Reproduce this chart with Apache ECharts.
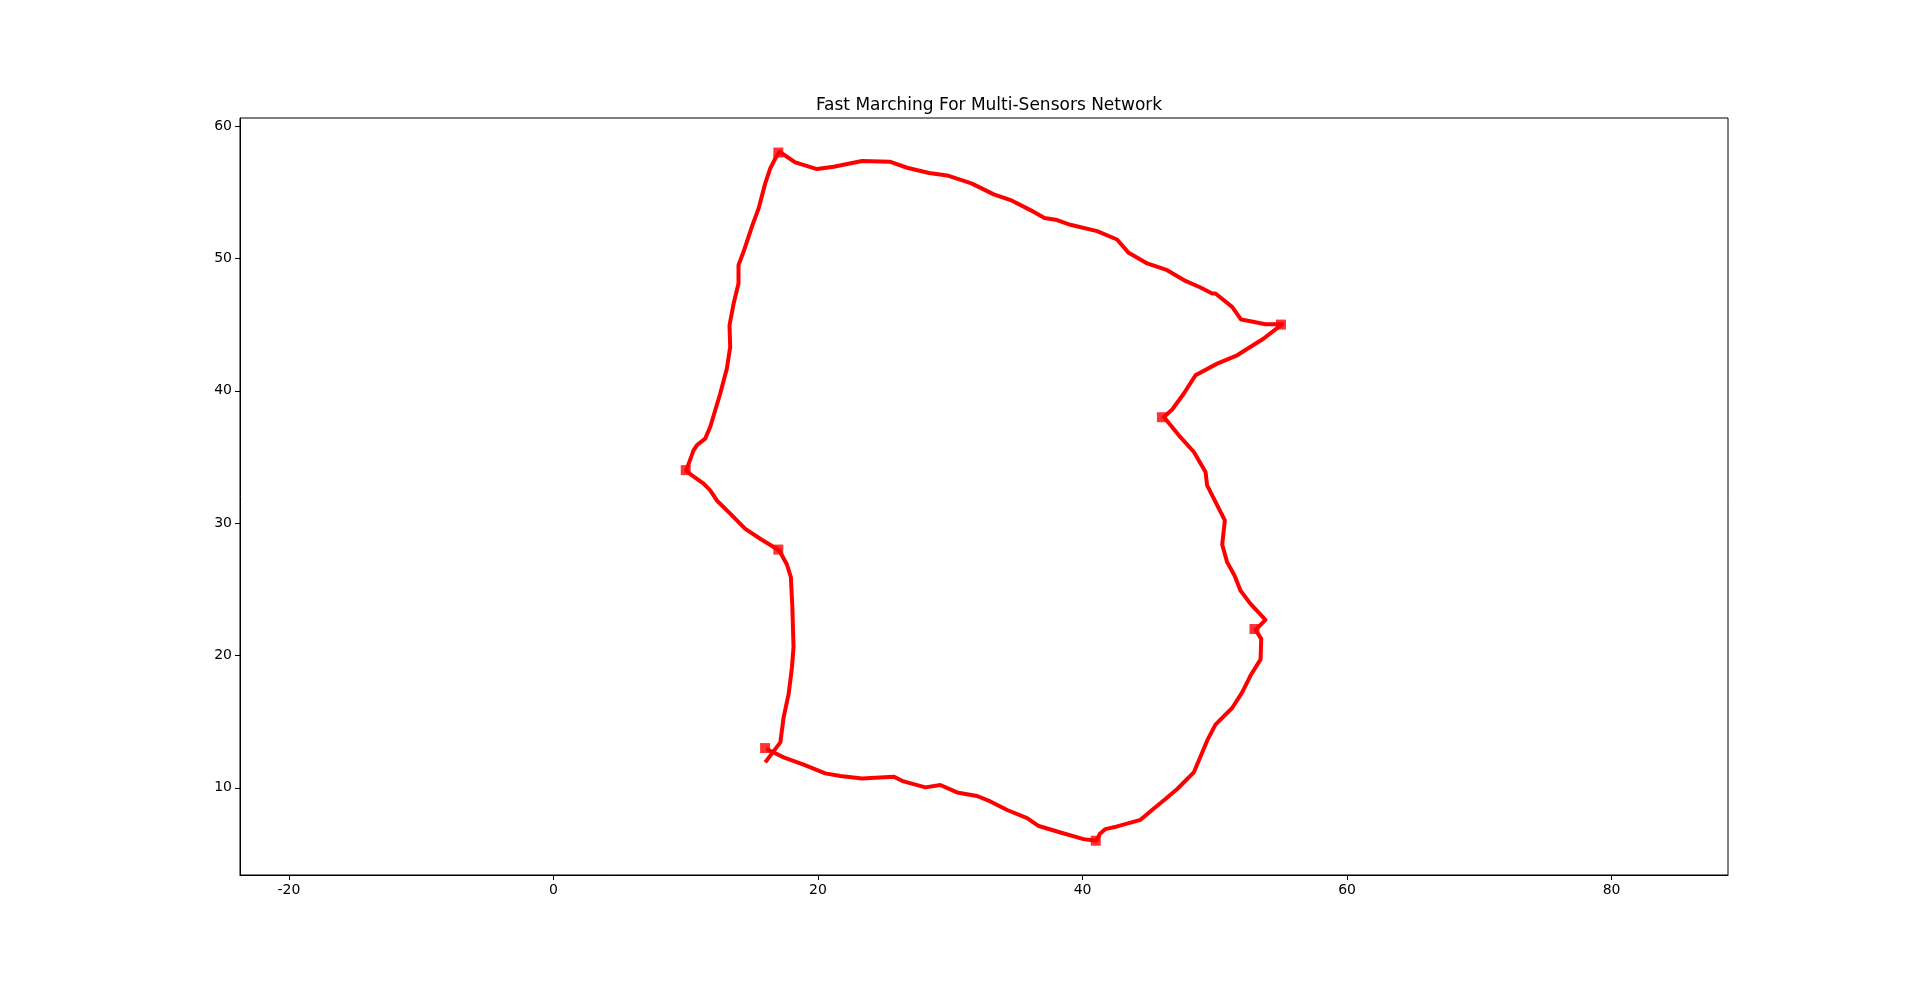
<!DOCTYPE html>
<html>
<head>
<meta charset="utf-8">
<script src="https://cdn.jsdelivr.net/npm/echarts@6/dist/echarts.min.js"></script>
<style>
html,body{margin:0;padding:0;background:#fff;}
#chart{width:1920px;height:983px;}
</style>
</head>
<body>
<div id="chart"></div>
<script>
// Path of the fast-marching loop
const pathX = [16.01,17.15,17.4,17.78,18.03,18.15,18.06,17.95,17.65,17.07,15.63,14.5,13.36,12.35,11.85,11.35,10.47,10.04,10.59,10.84,11.47,11.85,12.61,13.11,13.36,13.31,13.62,13.99,13.99,14.37,15.0,15.51,16.01,16.39,16.84,17.09,
  18.28,19.92,21.18,23.33,25.42,26.73,28.4,29.76,31.6,33.29,34.67,36.06,37.12,38.08,39.08,41.1,42.61,43.49,44.89,46.4,47.78,48.92,49.8,50.05,51.31,51.99,52.7,53.83,55.1,
  53.7,51.69,50.18,48.54,47.66,46.78,46.15,47.28,48.42,49.3,49.42,50.76,50.56,50.93,51.49,51.94,52.7,53.83,53.08,53.51,53.46,52.7,52.07,51.31,50.05,49.42,48.41,47.16,46.27,45.39,44.38,42.61,41.73,41.3,41.05,
  40.08,38.33,36.69,35.81,34.3,33.03,32.03,30.51,29.25,28.12,26.47,25.72,23.33,21.69,20.55,18.91,17.4,16.62,16.09];
const pathY = [11.92,13.43,15.32,17.09,19.11,20.62,23.64,25.91,26.87,27.93,28.82,29.57,30.71,31.71,32.47,32.98,33.6,33.98,35.5,35.88,36.38,37.26,39.79,41.68,43.31,44.95,46.59,48.11,49.49,50.5,52.39,53.78,55.67,56.8,57.68,58.06,
  57.26,56.75,56.93,57.36,57.31,56.85,56.45,56.27,55.67,54.84,54.36,53.65,53.05,52.9,52.54,52.06,51.43,50.42,49.62,49.11,48.3,47.8,47.35,47.35,46.34,45.38,45.25,45.03,45.03,
  43.95,42.68,42.05,41.17,39.79,38.58,38.02,36.63,35.37,33.86,32.85,30.2,28.39,27.05,26.04,24.91,23.9,22.69,21.93,21.25,19.7,18.48,17.21,16.03,14.77,13.56,11.16,9.91,9.15,8.44,7.58,7.08,6.88,6.5,6.0,
  6.12,6.62,7.11,7.71,8.32,8.97,9.38,9.65,10.21,10.03,10.48,10.84,10.71,10.89,11.09,11.75,12.3,12.68,12.93];

// Sensor positions
const sensorX = [17,55,46,53,41,16,17,10];
const sensorY = [58,45,38,22,6,13,28,34];

// Tick labels
const xTicks = [-20,0,20,40,60,80];
const yTicks = [10,20,30,40,50,60];

const titleText = 'Fast Marching For Multi-Sensors Network';

const pathData = pathX.map((x,i)=>[x,pathY[i]]);
const sensorData = sensorX.map((x,i)=>[x,sensorY[i]]);

const font = 'DejaVu Sans';
const chart = echarts.init(document.getElementById('chart'), null, {renderer:'canvas'});
chart.setOption({
  animation:false,
  backgroundColor:'#ffffff',
  title:{
    text:titleText,
    left:984,
    textAlign:'center',
    top:92,
    textStyle:{fontFamily:font,fontSize:17,fontWeight:'normal',color:'#000'}
  },
  grid:{left:240,top:118,width:1488,height:757,show:true,borderColor:'#000',borderWidth:1,backgroundColor:'transparent'},
  xAxis:{
    type:'value',min:-23.7,max:88.8,
    splitLine:{show:false},
    axisLine:{show:true,onZero:false,lineStyle:{color:'#000',width:1}},
    axisTick:{show:true,length:5,lineStyle:{color:'#000'},customValues:xTicks},
    axisLabel:{color:'#000',fontFamily:font,fontSize:14,margin:8,customValues:xTicks}
  },
  yAxis:{
    type:'value',min:3.41,max:60.61,
    splitLine:{show:false},
    axisLine:{show:true,onZero:false,lineStyle:{color:'#000',width:1}},
    axisTick:{show:true,length:5,lineStyle:{color:'#000'},customValues:yTicks},
    axisLabel:{color:'#000',fontFamily:font,fontSize:14,margin:8,customValues:yTicks}
  },
  series:[
    {type:'line',data:pathData,showSymbol:false,symbol:'none',lineStyle:{color:'#ff0000',width:4,join:'round',cap:'butt'},itemStyle:{color:'#ff0000'},z:2},
    {type:'scatter',data:sensorData,symbol:'rect',symbolSize:10,itemStyle:{color:'#ff0000'},z:3}
  ]
});
</script>
</body>
</html>
